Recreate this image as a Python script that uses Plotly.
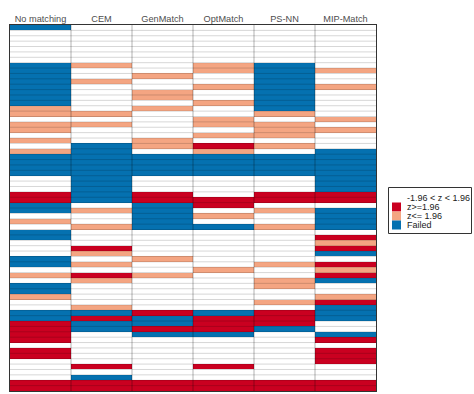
import plotly.graph_objects as go

# ---- data (codes: 0 = -1.96<z<1.96, 1 = z>=1.96, 2 = z<=-1.96, 3 = Failed) ----
methods = ["No matching", "CEM", "GenMatch", "OptMatch", "PS-NN", "MIP-Match"]

no_matching = [3, 0,0,0,0,0,0, 3,3,3,3,3,3,3,3, 2,2, 0, 2,2, 0, 2, 0, 2, 3,3,3,3, 0,0,0,
               1,1, 3,3, 0, 2, 0, 3,3, 0,0,0, 3,3, 0, 2, 0, 3,3, 2, 0,0, 3,3, 1,1,1,1, 0,
               1,1, 0,0,0,0, 1,1]
cem = [0,0,0,0,0,0,0, 2, 0,0, 2, 0,0,0,0,0, 2, 0, 2, 0,0,0, 3,3,3,3,3,3,3,3,3,3,3,
       0, 2, 0,0, 2, 0,0,0, 1, 2, 0, 2, 0, 1, 2, 0,0,0,0, 2, 3, 1, 3,3, 0,0,0,0,0,0,
       1, 0, 3, 1,1]
genmatch = [0,0,0,0,0,0,0,0,0, 2, 0,0, 2,2, 0, 2, 0,0,0,0,0, 2,2, 0, 3,3,3,3, 0,0,0,
            1,1, 3,3,3,3,3, 0,0,0,0,0, 2, 0,0, 2, 0,0,0,0,0,0, 1, 3,3, 1, 3,
            0,0,0,0,0,0,0,0, 1,1]
optmatch = [0,0,0,0,0,0,0, 2,2, 0,0, 2, 0,0, 2, 0,0, 2,2, 0, 2, 0, 1, 2, 3,3,3,3,
            0,0,0,0, 1,1, 0, 2, 0, 3, 0,0,0,0,0,0,0, 2, 0,0,0,0,0,0,0, 3, 1,1,1, 3,
            0,0,0,0,0, 1, 0,0, 1,1]
psnn = [0,0,0,0,0,0,0, 3,3,3,3,3,3,3,3,3, 2, 0, 2,2,2, 0, 2, 0, 3,3,3,3, 0,0,0,
        1,1, 0, 2, 0,0, 2, 0,0,0,0,0,0, 2, 0,0, 2,2, 0,0, 2, 0, 1,1,1, 3,
        0,0,0,0,0,0,0,0,0, 1,1]
mipmatch = [0,0,0,0,0,0,0,0, 2, 0,0, 2, 0,0,0,0,0, 2, 0, 2, 0,0,0, 3,3,3,3,3,3,3,3,
            1,1, 0, 3,3,3,3, 0, 1, 2, 1, 3, 0, 1, 2, 1, 3, 0,0, 2, 1, 3,3,3, 0,0, 3, 1,
            0, 1,1,1, 0,0,0, 1,1]

legend_labels = ["-1.96 < z < 1.96", "z>=1.96", "z<= 1.96", "Failed"]
colors = ["#ffffff", "#ca0020", "#f4a582", "#0571b0"]

columns = [no_matching, cem, genmatch, optmatch, psnn, mipmatch]
n_rows = len(no_matching)
rows = list(range(n_rows))
z = [[col[r] for col in columns] for r in rows]

colorscale = []
for i, c in enumerate(colors):
    colorscale.append([i / len(colors), c])
    colorscale.append([(i + 1) / len(colors), c])

fig = go.Figure()
fig.add_trace(go.Heatmap(
    z=z, x=methods, y=rows, zmin=-0.5, zmax=3.5,
    colorscale=colorscale, showscale=False, hoverinfo="skip",
))

# cell separators derived from the grid size
hx, hy = [], []
for k in range(n_rows - 1):
    hx += [-0.5, len(methods) - 0.5, None]
    hy += [k + 0.5, k + 0.5, None]
fig.add_trace(go.Scatter(x=hx, y=hy, mode="lines", xaxis="x2",
                         line=dict(color="rgba(0,0,0,0.16)", width=1),
                         hoverinfo="skip", showlegend=False))
vx, vy = [], []
for k in range(len(methods) - 1):
    vx += [k + 0.5, k + 0.5, None]
    vy += [-0.5, n_rows - 0.5, None]
fig.add_trace(go.Scatter(x=vx, y=vy, mode="lines", xaxis="x2",
                         line=dict(color="rgba(0,0,0,0.3)", width=1),
                         hoverinfo="skip", showlegend=False))

# manual legend (paper coordinates)
W, H = 474, 394
ml, mr, mt, mb = 10, 98, 25, 3
pw, ph = W - ml - mr, H - mt - mb
def px(xp): return (xp - ml) / pw
def py(yp): return (H - mb - yp) / ph

shapes = [dict(type="rect", xref="paper", yref="paper",
               x0=px(388.5), x1=px(471.5), y0=py(233.5), y1=py(187.5),
               line=dict(color="#333333", width=1), fillcolor="white", layer="above")]
annotations = []
for i, (lab, c) in enumerate(zip(legend_labels, colors)):
    top = 193.5 + 9 * i
    shapes.append(dict(type="rect", xref="paper", yref="paper",
                       x0=px(392), x1=px(401), y0=py(top + 9), y1=py(top),
                       line=dict(width=0), fillcolor=c, layer="above"))
    annotations.append(dict(text=lab, xref="paper", yref="paper",
                            x=px(405), y=py(top + 4.5), xanchor="left", yanchor="middle",
                            showarrow=False, font=dict(size=9, color="#1a1a1a")))

fig.update_layout(
    width=W, height=H,
    margin=dict(l=ml, r=mr, t=mt, b=mb),
    paper_bgcolor="white", plot_bgcolor="white",
    font=dict(family="Liberation Sans, Arial, sans-serif"),
    showlegend=False,
    shapes=shapes, annotations=annotations,
    xaxis=dict(side="top", ticks="", tickfont=dict(size=9.2, color="#4d4d4d"),
               ticklabelstandoff=-2,
               showgrid=False, zeroline=False, showline=True, mirror=True,
               linecolor="#333333", linewidth=1, range=[-0.5, 5.5], fixedrange=True),
    xaxis2=dict(overlaying="x", range=[-0.5, 5.5], visible=False, fixedrange=True),
    yaxis=dict(range=[n_rows - 0.5, -0.5], showticklabels=False, ticks="",
               showgrid=False, zeroline=False, showline=True, mirror=True,
               linecolor="#333333", linewidth=1, fixedrange=True),
)

fig.write_html("out.html", config={"displayModeBar": False},
               post_script="document.body.style.margin='0';document.body.style.overflow='hidden';")
